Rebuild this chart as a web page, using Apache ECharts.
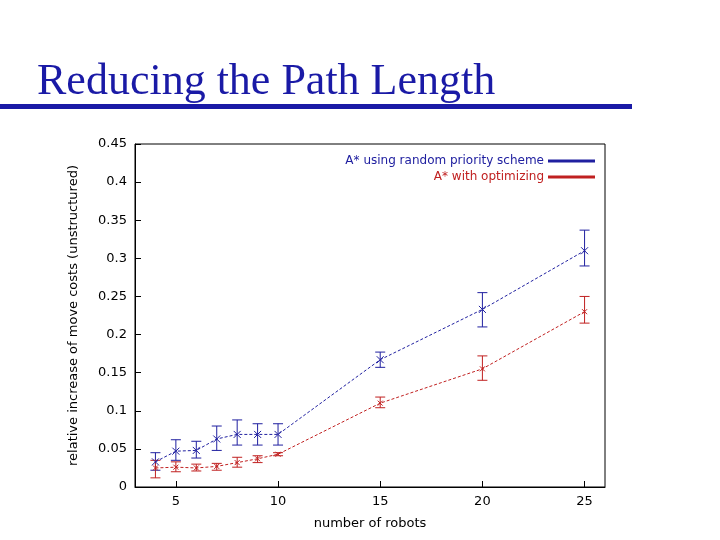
<!DOCTYPE html><html><head><meta charset="utf-8"><script src="https://cdn.jsdelivr.net/npm/echarts@6/dist/echarts.min.js"></script>
<style>body{margin:0;background:#fff}#t{position:absolute;left:37px;top:54px;font:44px "Liberation Serif",serif;color:#1a1aa6}#l{position:absolute;left:0;top:104px;width:632px;height:5px;background:#1a1aa6}#c{position:absolute;left:0;top:0;width:720px;height:540px}</style></head><body>
<div id="c"></div><div id="t">Reducing the Path Length</div><div id="l"></div>
<script>
const robots=[4,5,6,7,8,9,10,15,20,25];
const xTicks=[5,10,15,20,25];
const blueMean=[0.033,0.047,0.048,0.063,0.069,0.069,0.069,0.167,0.233,0.31];
const blueLow=[0.022,0.035,0.038,0.048,0.055,0.055,0.055,0.157,0.21,0.29];
const blueHigh=[0.045,0.062,0.06,0.08,0.088,0.083,0.083,0.177,0.255,0.337];
const redMean=[0.025,0.026,0.025,0.027,0.032,0.037,0.043,0.11,0.155,0.23];
const redLow=[0.012,0.02,0.021,0.022,0.026,0.032,0.041,0.104,0.14,0.215];
const redHigh=[0.035,0.033,0.03,0.031,0.039,0.041,0.045,0.118,0.172,0.25];
const ch=echarts.init(document.getElementById('c'));
function eb(color,low,high){return {type:'custom',silent:true,data:robots.map((x,i)=>[x,low[i],high[i]]),
renderItem:(p,api)=>{const a=api.coord([api.value(0),api.value(1)]),b=api.coord([api.value(0),api.value(2)]);const w=5;
return {type:'group',children:[{type:'line',shape:{x1:a[0],y1:a[1],x2:b[0],y2:b[1]},style:{stroke:color,lineWidth:1}},
{type:'line',shape:{x1:a[0]-w,y1:a[1],x2:a[0]+w,y2:a[1]},style:{stroke:color,lineWidth:1}},
{type:'line',shape:{x1:b[0]-w,y1:b[1],x2:b[0]+w,y2:b[1]},style:{stroke:color,lineWidth:1}}]};},z:3};}
const tf={fontFamily:'DejaVu Sans',fontSize:13,color:'#000'};
ch.setOption({animation:false,grid:{left:135,top:144,width:470,height:343,show:true,borderColor:'#000',borderWidth:1},
legend:{right:120,top:150,orient:'vertical',itemWidth:45,itemHeight:1,icon:'rect',align:'right',itemGap:4,textStyle:{fontFamily:'DejaVu Sans',fontSize:12},
data:[{name:'A* using random priority scheme',textStyle:{color:'#2020a0'}},{name:'A* with optimizing',textStyle:{color:'#c02020'}}]},
xAxis:{type:'value',min:3,max:26,axisLabel:{...tf,customValues:xTicks},name:'number of robots',nameLocation:'middle',nameGap:30,nameTextStyle:tf,
axisLine:{lineStyle:{color:'#000'}},axisTick:{inside:true,length:6,lineStyle:{color:'#000'},customValues:xTicks},splitLine:{show:false}},
yAxis:{type:'value',min:0,max:0.45,interval:0.05,axisLabel:{...tf,formatter:v=>+v.toFixed(2)+''},name:'relative increase of move costs (unstructured)',nameLocation:'middle',nameGap:55,nameTextStyle:tf,
axisLine:{lineStyle:{color:'#000'}},axisTick:{inside:true,length:6,lineStyle:{color:'#000'}},splitLine:{show:false}},
series:[
{name:'A* using random priority scheme',type:'line',data:robots.map((x,i)=>[x,blueMean[i]]),color:'#2020a0',lineStyle:{width:1,type:[3,2]},symbol:'path://M0,0L10,10M10,0L0,10',symbolSize:7,itemStyle:{borderColor:'#2020a0',borderWidth:1}},
{name:'A* with optimizing',type:'line',data:robots.map((x,i)=>[x,redMean[i]]),color:'#c02020',lineStyle:{width:1,type:[3,2]},symbol:'path://M0,0L10,10M10,0L0,10',symbolSize:5,itemStyle:{borderColor:'#c02020',borderWidth:1}},
eb('#2020a0',blueLow,blueHigh),eb('#c02020',redLow,redHigh)]});
</script></body></html>
